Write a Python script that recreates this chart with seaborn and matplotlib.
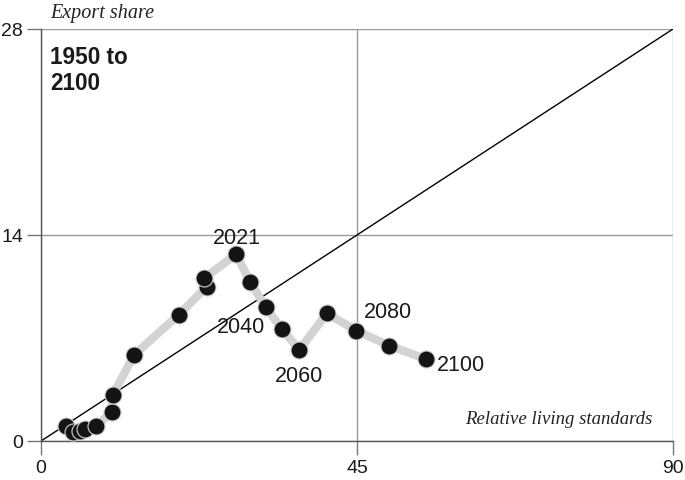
import matplotlib
matplotlib.use("Agg")
import matplotlib.pyplot as plt
import seaborn as sns
import pandas as pd

# Data
living_standards = [3.5, 4.6, 5.5, 6.3, 7.9, 10.1, 10.2, 13.3, 19.6, 23.6, 23.2, 27.8,
                    29.8, 32.0, 34.3, 36.8, 40.7, 44.9, 49.6, 54.8]
export_share = [1.04, 0.59, 0.66, 0.82, 1.0, 1.99, 3.13, 5.87, 8.57, 10.49, 11.06, 12.69,
                10.79, 9.09, 7.61, 6.19, 8.68, 7.5, 6.48, 5.57]
point_labels = {11: "2021", 13: "2040", 15: "2060", 17: "2080", 19: "2100"}
label_offsets_px = {11: (1, 17), 13: (-25, -19), 15: (0, -26), 17: (32, 19), 19: (35, -5)}
x_ticks = [0, 45, 90]
y_ticks = [0, 14, 28]

df = pd.DataFrame({"x": living_standards, "y": export_share})

sns.set_theme(style="white")
plt.rcParams["font.family"] = ["Liberation Sans", "DejaVu Sans"]

fig = plt.figure(figsize=(6.85, 4.81), dpi=100)
ax = fig.add_axes([41 / 685, 39 / 481, 632 / 685, 412 / 481])

# grid lines
for t in y_ticks:
    ax.axhline(t, color="#9a9a9a", lw=1.0, zorder=0)
for t in x_ticks:
    ax.axvline(t, color="#9a9a9a", lw=1.0, zorder=0)

# diagonal
ax.plot([0, 90], [0, 28], color="black", lw=1.0, zorder=1)

sns.lineplot(data=df, x="x", y="y", sort=False, color="#d3d3d3", lw=6,
             ax=ax, zorder=2, legend=False)
sns.scatterplot(data=df, x="x", y="y", color="#141414", s=150,
                edgecolor="#cfcfcf", linewidth=0.8, ax=ax, zorder=3, legend=False)

for i, lab in point_labels.items():
    dx, dy = label_offsets_px[i]
    ax.annotate(lab, (living_standards[i], export_share[i]), xytext=(dx, dy),
                textcoords="offset pixels", ha="center", va="center",
                fontsize=15.5, color="#1a1a1a", zorder=4)

ax.set_xlim(0, 90)
ax.set_ylim(0, 28)
ax.set_xticks(x_ticks)
ax.set_yticks(y_ticks)
ax.set_xlabel("")
ax.set_ylabel("")
for s in ["top", "right"]:
    ax.spines[s].set_visible(False)
for s in ["left", "bottom"]:
    ax.spines[s].set_color("#555555")
    ax.spines[s].set_linewidth(1.0)
ax.tick_params(axis="both", which="both", direction="out", length=10, width=1.0,
               color="#777777", labelsize=14, labelcolor="#1a1a1a", pad=3, left=True, bottom=True)
ax.tick_params(axis="y", pad=3)

ax.text(1.3, 29.1, "Export share", family=["Liberation Serif", "DejaVu Serif"],
        style="italic", fontsize=14.5, color="#222222", ha="left", va="center", clip_on=False)
ax.text(87.0, 1.5, "Relative living standards", family=["Liberation Serif", "DejaVu Serif"],
        style="italic", fontsize=13.5, color="#222222", ha="right", va="center")
ax.text(1.3, 26.9, "1950 to\n2100", fontsize=16.3, fontweight="bold", color="#1a1a1a",
        ha="left", va="top", linespacing=1.15)

fig.savefig("out.png", dpi=100)
